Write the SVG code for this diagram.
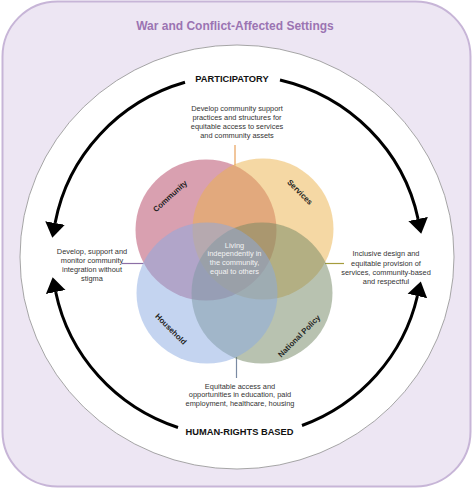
<svg xmlns="http://www.w3.org/2000/svg" width="474" height="489" viewBox="0 0 474 489">
<defs>
<style>
.sm{font-family:"Liberation Sans",Arial,sans-serif;font-size:7.4px;fill:#333;text-anchor:middle}
.hd{font-family:"Liberation Sans",Arial,sans-serif;font-size:9.3px;font-weight:bold;fill:#111;text-anchor:middle}
.lb{font-family:"Liberation Sans",Arial,sans-serif;font-size:7.8px;font-weight:bold;fill:#222;text-anchor:middle}
.ct{font-family:"Liberation Sans",Arial,sans-serif;font-size:7.4px;fill:#f4f4f4;text-anchor:middle}
.arc{fill:none;stroke:#000;stroke-width:3}
.v{opacity:0.5}
</style>
<marker id="ah" markerUnits="userSpaceOnUse" markerWidth="16" markerHeight="22" refX="0" refY="10" orient="auto" viewBox="0 0 16 20">
<path d="M0,0 L15,10 L0,20 Z" fill="#000"/>
</marker>
</defs>
<g id="frame">
<rect x="2.5" y="1.5" width="468" height="485" rx="55" fill="#ede6f3" stroke="#c7b5d7" stroke-width="2"/>
<text x="235" y="29.5" style="font-family:'Liberation Sans',Arial,sans-serif;font-size:12px;font-weight:bold;fill:#9b74b2;text-anchor:middle">War and Conflict-Affected Settings</text>
</g>
<g id="ring">
<ellipse cx="237" cy="257" rx="217" ry="212" fill="#fff" stroke="#8f8f8f" stroke-width="0.8"/>
</g>
<g id="connectors">
<path class="arc" d="M185,82.3 A185,181 0 0,0 55.1,223" marker-end="url(#ah)"/>
<path class="arc" d="M280,80 A185,181 0 0,1 418.1,219" marker-end="url(#ah)"/>
<path class="arc" d="M178,427.5 A185,181 0 0,1 55.7,292" marker-end="url(#ah)"/>
<path class="arc" d="M302,425.5 A185,181 0 0,0 417.4,296" marker-end="url(#ah)"/>
<line x1="235" y1="145" x2="235" y2="165.5" stroke="#e8a05a" stroke-width="1.2"/>
<line x1="122" y1="263.5" x2="143.5" y2="263.5" stroke="#8c6fa6" stroke-width="1.2"/>
<line x1="325" y1="263.5" x2="344" y2="263.5" stroke="#a59c3c" stroke-width="1.2"/>
<line x1="236.5" y1="357" x2="236.5" y2="378" stroke="#7a8aa3" stroke-width="1.2"/>
</g>
<g id="participatory"><text class="hd" x="232" y="81.5">PARTICIPATORY</text></g>
<g id="human-rights"><text class="hd" x="239.5" y="434.5">HUMAN-RIGHTS BASED</text></g>
<g id="community">
<circle class="v" cx="206" cy="230" r="70.5" fill="#b34161"/>
<text class="lb" transform="translate(170,196) rotate(-42)" y="2.8">Community</text>
</g>
<g id="services">
<circle class="v" cx="263" cy="229" r="70.5" fill="#ebb149"/>
<text class="lb" transform="translate(300,192) rotate(45)" y="2.8">Services</text>
</g>
<g id="national-policy">
<circle class="v" cx="262" cy="293" r="70.5" fill="#718561"/>
<text class="lb" transform="translate(299,336) rotate(-45)" y="2.8">National Policy</text>
</g>
<g id="household">
<circle class="v" cx="207" cy="293" r="70.5" fill="#89a9e1"/>
<text class="lb" transform="translate(171,329) rotate(45)" y="2.8">Household</text>
</g>
<g id="center">
<text class="ct" x="234.5" y="247.7">Living</text>
<text class="ct" x="234.5" y="256.3">independently in</text>
<text class="ct" x="234.5" y="265">the community,</text>
<text class="ct" x="234.5" y="273.8">equal to others</text>
</g>
<g id="top-text">
<text class="sm" x="237" y="110.5">Develop community support</text>
<text class="sm" x="237" y="119.7">practices and structures for</text>
<text class="sm" x="237" y="128.9">equitable access to services</text>
<text class="sm" x="237" y="138.1">and community assets</text>
</g>
<g id="left-text">
<text class="sm" x="92" y="254">Develop, support and</text>
<text class="sm" x="92" y="263">monitor community</text>
<text class="sm" x="92" y="272">integration without</text>
<text class="sm" x="92" y="281">stigma</text>
</g>
<g id="right-text">
<text class="sm" x="386" y="256.3">Inclusive design and</text>
<text class="sm" x="386" y="265.5">equitable provision of</text>
<text class="sm" x="386" y="274.7">services, community-based</text>
<text class="sm" x="386" y="283.9">and respectful</text>
</g>
<g id="bottom-text">
<text class="sm" x="240" y="388.5">Equitable access and</text>
<text class="sm" x="240" y="397">opportunities in education, paid</text>
<text class="sm" x="240" y="405.5">employment, healthcare, housing</text>
</g>
</svg>
